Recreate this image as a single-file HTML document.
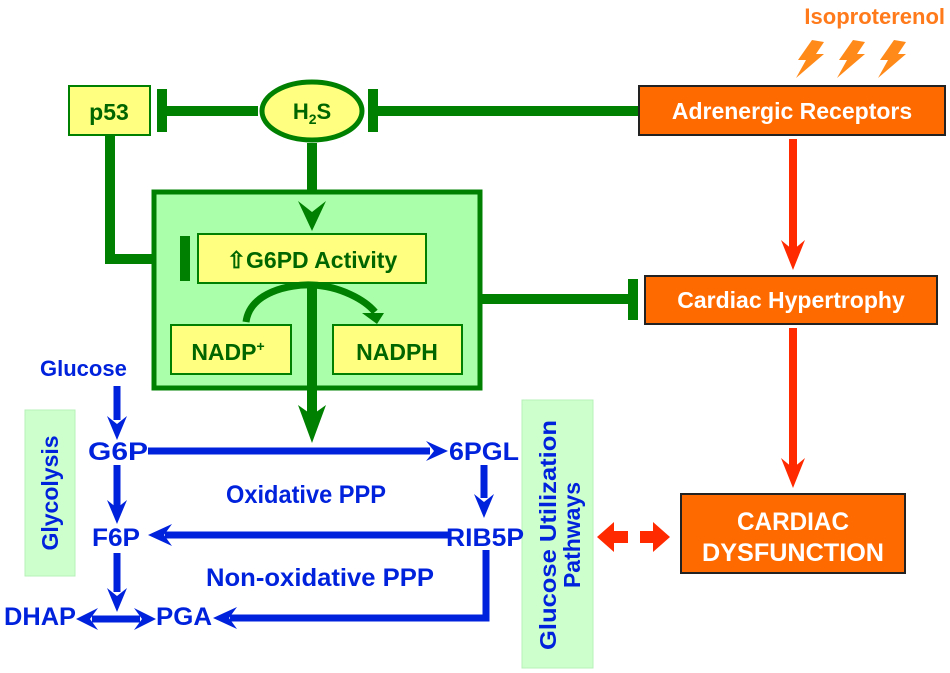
<!DOCTYPE html>
<html><head><meta charset="utf-8"><style>
html,body{margin:0;padding:0;background:#fff;}
svg{display:block;font-family:"Liberation Sans",Arial,sans-serif;font-weight:bold;}
</style></head><body>
<svg width="950" height="673" viewBox="0 0 950 673">
<!-- Isoproterenol -->
<text x="945" y="24" text-anchor="end" font-size="22" fill="#FF7A1A">Isoproterenol</text>
<g fill="#FF8A1A">
<polygon points="812,40 824,42 816,54 824,54 796,78 806,60 798,60"/>
<polygon points="853,40 865,42 857,54 865,54 837,78 847,60 839,60"/>
<polygon points="894,40 906,42 898,54 906,54 878,78 888,60 880,60"/>
</g>
<!-- green lines -->
<g stroke="#008000" fill="none">
<line x1="258" y1="111" x2="165" y2="111" stroke-width="10"/>
<line x1="162" y1="89" x2="162" y2="132" stroke-width="10"/>
<line x1="378" y1="111" x2="640" y2="111" stroke-width="10"/>
<line x1="373" y1="89" x2="373" y2="132" stroke-width="10"/>
<polyline points="110,135 110,259 185,259" stroke-width="10"/>
<line x1="312" y1="143" x2="312" y2="205" stroke-width="10"/>
</g>
<!-- p53 -->
<rect x="69" y="86" width="81" height="49" fill="#FFFF80" stroke="#008000" stroke-width="2"/>
<text x="109" y="120" text-anchor="middle" font-size="23" fill="#006600">p53</text>
<!-- H2S -->
<ellipse cx="312" cy="111" rx="50" ry="29" fill="#FFFF80" stroke="#008000" stroke-width="5"/>
<text x="312" y="119" text-anchor="middle" font-size="22" fill="#006600">H<tspan font-size="14" dy="5">2</tspan><tspan dy="-5">S</tspan></text>
<!-- green box -->
<rect x="154" y="192" width="326" height="196" fill="#AAFFAA" stroke="#008000" stroke-width="5"/>
<line x1="482" y1="299" x2="630" y2="299" stroke="#008000" stroke-width="10"/>
<line x1="633" y1="279" x2="633" y2="320" stroke="#008000" stroke-width="10"/>
<line x1="185" y1="236" x2="185" y2="281" stroke="#008000" stroke-width="10"/>
<polygon points="298,201 312,212 326,201 312,231" fill="#008000"/>
<line x1="312" y1="283" x2="312" y2="415" stroke="#008000" stroke-width="10"/>
<polygon points="298,405 312,415 326,405 312,443" fill="#008000"/>
<rect x="198" y="234" width="228" height="49" fill="#FFFF80" stroke="#008000" stroke-width="2"/>
<text x="312" y="268" text-anchor="middle" font-size="23" fill="#006600">⇧G6PD Activity</text>
<path d="M246,322 C250,292 290,284 312,285 C340,286 365,300 375,312" stroke="#008000" stroke-width="7" fill="none"/>
<polygon points="362,313 384,313 377,324" fill="#008000"/>
<rect x="171" y="325" width="120" height="49" fill="#FFFF80" stroke="#008000" stroke-width="2"/>
<text x="228" y="360" text-anchor="middle" font-size="23" fill="#006600">NADP<tspan font-size="14" dy="-9">+</tspan></text>
<rect x="333" y="325" width="129" height="49" fill="#FFFF80" stroke="#008000" stroke-width="2"/>
<text x="397" y="360" text-anchor="middle" font-size="23" fill="#006600">NADPH</text>
<!-- orange boxes -->
<rect x="639" y="86" width="306" height="49" fill="#FF6A00" stroke="#222" stroke-width="2"/>
<text x="792" y="119" text-anchor="middle" font-size="23" fill="#fff">Adrenergic Receptors</text>
<line x1="793" y1="139" x2="793" y2="255" stroke="#FF2A00" stroke-width="8"/>
<polygon points="781,240 793,250 805,240 793,270" fill="#FF2A00"/>
<rect x="645" y="276" width="292" height="48" fill="#FF6A00" stroke="#222" stroke-width="2"/>
<text x="791" y="308" text-anchor="middle" font-size="23" fill="#fff">Cardiac Hypertrophy</text>
<line x1="793" y1="328" x2="793" y2="470" stroke="#FF2A00" stroke-width="8"/>
<polygon points="781,458 793,468 805,458 793,488" fill="#FF2A00"/>
<rect x="681" y="494" width="224" height="79" fill="#FF6A00" stroke="#222" stroke-width="2"/>
<text x="793" y="530" text-anchor="middle" font-size="25" fill="#fff" textLength="112" lengthAdjust="spacingAndGlyphs">CARDIAC</text>
<text x="793" y="561" text-anchor="middle" font-size="25" fill="#fff" textLength="182" lengthAdjust="spacingAndGlyphs">DYSFUNCTION</text>
<!-- red double arrow -->
<polygon points="597,537 614,522 614,531 628,531 628,543 614,543 614,552" fill="#FF2A00"/>
<polygon points="670,537 653,522 653,531 640,531 640,543 653,543 653,552" fill="#FF2A00"/>
<!-- light green boxes -->
<rect x="25" y="410" width="50" height="166" fill="#CCFFCC" stroke="#B8F0B8"/>
<text transform="translate(58,493) rotate(-90)" text-anchor="middle" font-size="23" fill="#0022DD">Glycolysis</text>
<rect x="522" y="400" width="71" height="268" fill="#CCFFCC" stroke="#B8F0B8"/>
<text transform="translate(556,535) rotate(-90)" text-anchor="middle" font-size="23" fill="#0022DD" textLength="230" lengthAdjust="spacingAndGlyphs">Glucose Utilization</text>
<text transform="translate(580,535) rotate(-90)" text-anchor="middle" font-size="23" fill="#0022DD">Pathways</text>
<!-- blue pathway -->
<g fill="#0022DD" font-size="25">
<text x="40" y="376" font-size="22">Glucose</text>
<text x="88" y="460" textLength="60" lengthAdjust="spacingAndGlyphs">G6P</text>
<text x="449" y="460" textLength="70" lengthAdjust="spacingAndGlyphs">6PGL</text>
<text x="226" y="503" textLength="160" lengthAdjust="spacingAndGlyphs">Oxidative PPP</text>
<text x="92" y="546" textLength="48" lengthAdjust="spacingAndGlyphs">F6P</text>
<text x="446" y="546" textLength="78" lengthAdjust="spacingAndGlyphs">RIB5P</text>
<text x="206" y="586" textLength="228" lengthAdjust="spacingAndGlyphs">Non-oxidative PPP</text>
<text x="4" y="625" textLength="72" lengthAdjust="spacingAndGlyphs">DHAP</text>
<text x="156" y="625" textLength="56" lengthAdjust="spacingAndGlyphs">PGA</text>
</g>
<g stroke="#0022DD" stroke-width="7" fill="none">
<line x1="117" y1="386" x2="117" y2="420"/>
<line x1="117" y1="465" x2="117" y2="508"/>
<line x1="117" y1="553" x2="117" y2="592"/>
<line x1="148" y1="451" x2="430" y2="451"/>
<line x1="484" y1="465" x2="484" y2="498"/>
<line x1="448" y1="535" x2="165" y2="535"/>
<polyline points="486,550 486,618 230,618"/>
<line x1="92" y1="619" x2="140" y2="619"/>
</g>
<g fill="#0022DD">
<polygon points="107,416 117,424 127,416 117,440"/>
<polygon points="107,500 117,508 127,500 117,524"/>
<polygon points="107,588 117,596 127,588 117,612"/>
<polygon points="426,441 434,451 426,461 448,451"/>
<polygon points="474,494 484,502 494,494 484,518"/>
<polygon points="172,524 164,535 172,546 148,535"/>
<polygon points="237,607 229,618 237,629 213,618"/>
<polygon points="98,608 90,619 98,630 76,619"/>
<polygon points="134,608 142,619 134,630 156,619"/>
</g>
</svg>
</body></html>
